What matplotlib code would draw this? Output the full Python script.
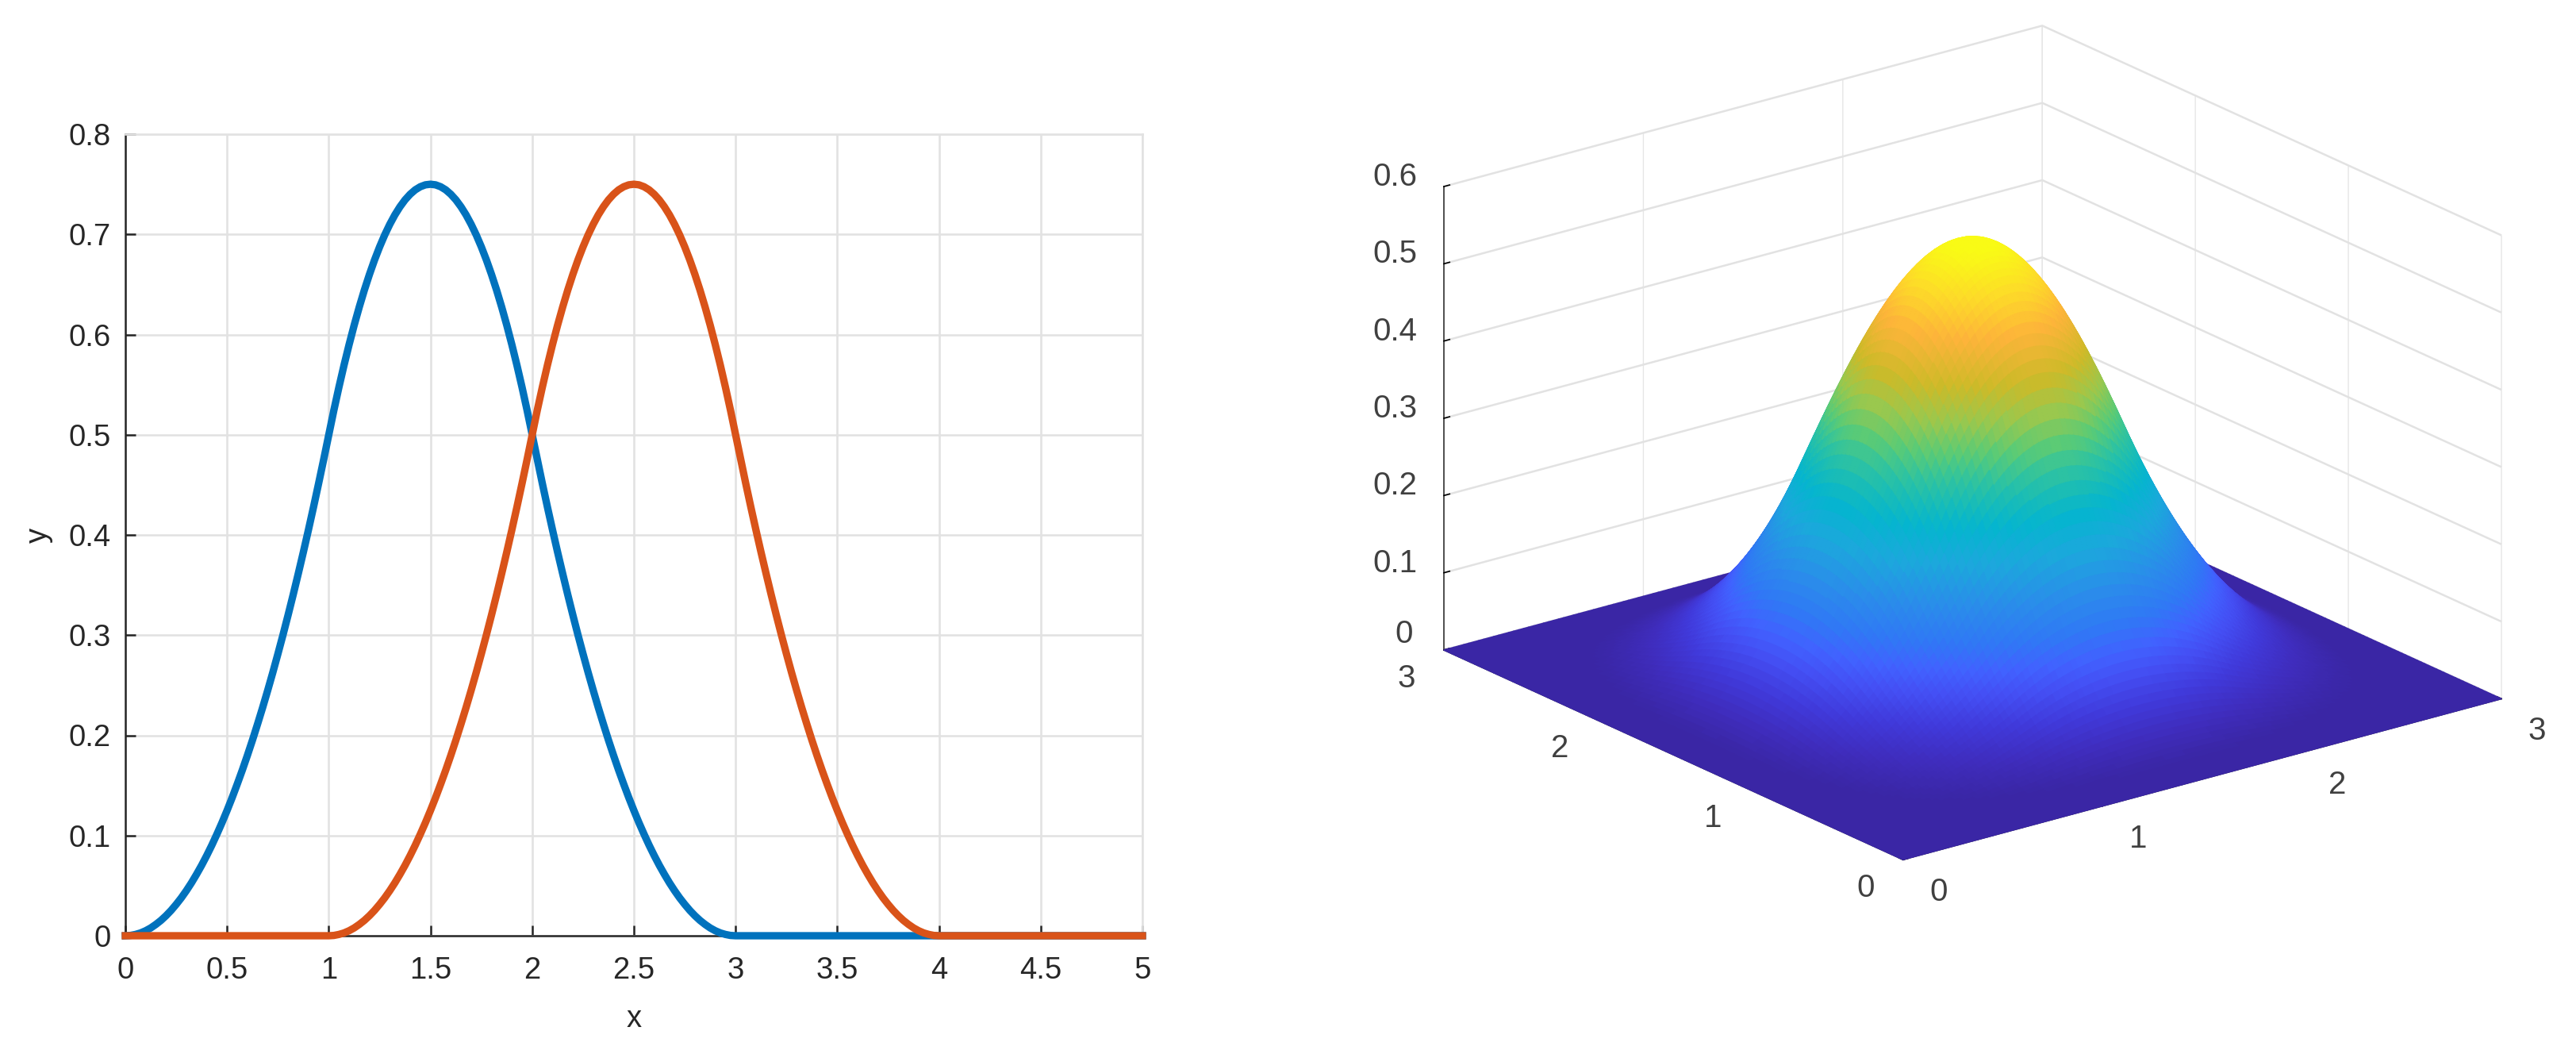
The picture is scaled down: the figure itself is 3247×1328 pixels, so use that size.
#!/usr/bin/env python

import numpy as np
import matplotlib
matplotlib.use('Agg')
import matplotlib.pyplot as plt
from matplotlib.colors import LinearSegmentedColormap
from mpl_toolkits.mplot3d import proj3d

plt.rcParams['font.family'] = ['Liberation Sans', 'DejaVu Sans']

# rising half of the bump, read every 0.025 from 0 to 1.5
bump_rise = [
    0.0, 0.0003, 0.0013, 0.0028, 0.005, 0.0078, 0.0113, 0.0153, 0.02, 0.0253,
    0.0313, 0.0378, 0.045, 0.0528, 0.0613, 0.0703, 0.08, 0.0903, 0.1013, 0.1128,
    0.125, 0.1378, 0.1513, 0.1653, 0.18, 0.1953, 0.2113, 0.2278, 0.245, 0.2628,
    0.2813, 0.3003, 0.32, 0.3403, 0.3613, 0.3828, 0.405, 0.4278, 0.4513, 0.4753,
    0.5, 0.5244, 0.5475, 0.5694, 0.59, 0.6094, 0.6275, 0.6444, 0.66, 0.6744,
    0.6875, 0.6994, 0.71, 0.7194, 0.7275, 0.7344, 0.74, 0.7444, 0.7475, 0.7494,
    0.75,
]
bump = bump_rise + bump_rise[-2::-1]
step = 0.025

curve_x = [i * step for i in range(201)]
blue_y = bump + [0.0] * 80
red_y = [0.0] * 40 + bump + [0.0] * 40

x_ticks = [0, 0.5, 1, 1.5, 2, 2.5, 3, 3.5, 4, 4.5, 5]
x_labels = ['0', '0.5', '1', '1.5', '2', '2.5', '3', '3.5', '4', '4.5', '5']
y_ticks = [0, 0.1, 0.2, 0.3, 0.4, 0.5, 0.6, 0.7, 0.8]
y_labels = ['0', '0.1', '0.2', '0.3', '0.4', '0.5', '0.6', '0.7', '0.8']

surf_ticks = [0, 1, 2, 3]
surf_z_ticks = [0, 0.1, 0.2, 0.3, 0.4, 0.5, 0.6]
surf_z_labels = ['0', '0.1', '0.2', '0.3', '0.4', '0.5', '0.6']

# colour against height on the surface
color_pos = [0, 0.012, 0.055, 0.10, 0.16, 0.20, 0.25, 0.32, 0.40, 0.47, 0.52, 0.57,
             0.62, 0.68, 0.75, 0.84, 0.92, 0.99, 1]
color_hex = ['#3a26a5', '#3a26a5', '#3f2dbe', '#4038d8', '#4450f5', '#4162ff', '#3078f5',
             '#2a8dea', '#1ca8dc', '#05b5cf', '#18bcb8', '#33c49c', '#5ccb75', '#98c84f',
             '#cdba28', '#fdb43a', '#fddc28', '#f9fb15', '#f9fb15']

W, H = 3248, 1328
TEXT = '#262626'
GRID = '#e2e2e2'
FS = 27.5

fig = plt.figure(figsize=(W / 100, H / 100), dpi=100)

# left panel
ax1 = fig.add_axes([158 / W, 1 - 1179 / H, (1440 - 158) / W, (1179 - 169) / H])
ax1.plot(curve_x, blue_y, color='#0072bd', lw=6.7, clip_on=False, zorder=3)
ax1.plot(curve_x, red_y, color='#d95319', lw=6.7, clip_on=False, zorder=4)
ax1.set_xlim(0, 5)
ax1.set_ylim(0, 0.8)
ax1.set_xticks(x_ticks, x_labels)
ax1.set_yticks(y_ticks, y_labels)
ax1.grid(True, color=GRID, lw=1.9)
ax1.set_axisbelow(True)
ax1.tick_params(direction='in', length=9.5, width=1.8, color=TEXT, labelcolor=TEXT,
                labelsize=FS, pad=13)
ax1.tick_params(axis='x', pad=19)
for side in ['top', 'right']:
    ax1.spines[side].set_color(GRID)
    ax1.spines[side].set_linewidth(1.9)
for side in ['left', 'bottom']:
    ax1.spines[side].set_color(TEXT)
    ax1.spines[side].set_linewidth(1.8)
ax1.set_xlabel('x', fontsize=FS, color=TEXT, labelpad=18)
ax1.set_ylabel('y', fontsize=FS, color=TEXT, labelpad=14)

# right panel
side_px = 1500
ax2 = fig.add_axes([1700 / W, 1 - 1300 / H, side_px / W, side_px / H], projection='3d',
                   proj_type='ortho')
ax2.patch.set_alpha(0)
ax2.view_init(elev=20.5, azim=-127.5)
aspect = (950, 950, 623)
ax2.set_box_aspect(aspect)

surf_axis = [i * step for i in range(121)]
X, Y = np.meshgrid(surf_axis, surf_axis)
Z = np.outer(bump, bump)
surf_cmap = LinearSegmentedColormap.from_list('surf', list(zip(color_pos, color_hex)), N=256)
surf = ax2.plot_surface(X, Y, Z, rstride=1, cstride=1, cmap=surf_cmap, vmin=0, vmax=Z.max(),
                        linewidth=1.2, antialiased=True, shade=False)
surf.set_edgecolor('face')

ax2.set_xlim(0, 3, view_margin=0)
ax2.set_ylim(0, 3, view_margin=0)
ax2.set_zlim(0, 0.6, view_margin=0)
ax2.set_xticks(surf_ticks)
ax2.set_yticks(surf_ticks)
ax2.set_zticks(surf_z_ticks)
ax2.set_xticklabels([])
ax2.set_yticklabels([])
ax2.set_zticklabels([])

for axis in [ax2.xaxis, ax2.yaxis, ax2.zaxis]:
    axis.set_pane_color((1, 1, 1, 0))
    axis.pane.set_edgecolor((1, 1, 1, 0))
    axis.line.set_color('#333333')
    axis.line.set_linewidth(1.2)
    axis._axinfo['grid'].update(color='#e6e6e6', linewidth=1.0)
    axis._axinfo['tick'].update(inward_factor=0.0, outward_factor=0.12, linewidth={True: 1.2, False: 1.2}, color='#555555')
ax2.zaxis._axinfo['grid'].update(color=GRID, linewidth=1.8)


def corner_px(x, y, z):
    px, py, _ = proj3d.proj_transform(x, y, z, ax2.get_proj())
    return ax2.transData.transform((px, py))


# scale and move the box so its corners land where they are in the picture
fig.canvas.draw()
p_left = corner_px(0, 3, 0)
p_right = corner_px(3, 0, 0)
zoom = (3153 - 1820) / (p_right[0] - p_left[0])
ax2.set_box_aspect(aspect, zoom=zoom)
fig.canvas.draw()
p_left = corner_px(0, 3, 0)
dx = 1820 - p_left[0]
dy = (H - 819) - p_left[1]
pos = ax2.get_position()
ax2.set_position([pos.x0 + dx / W, pos.y0 + dy / H, pos.width, pos.height])
fig.canvas.draw()


def label3d(text, x, y, z, off):
    px, py, _ = proj3d.proj_transform(x, y, z, ax2.get_proj())
    ax2.annotate(text, xy=(px, py), xytext=off, textcoords='offset pixels',
                 fontsize=29, color='#404040', ha='center', va='center',
                 annotation_clip=False)


for t in surf_ticks:
    label3d(str(t), t, 0, 0, (45, -41))
    label3d(str(t), 0, t, 0, (-47, -36))
for v, s in zip(surf_z_ticks, surf_z_labels):
    label3d(s, 0, 3, v, (-62 if v else -50, 12 if v else 20))

fig.savefig('out.png', dpi=100)
